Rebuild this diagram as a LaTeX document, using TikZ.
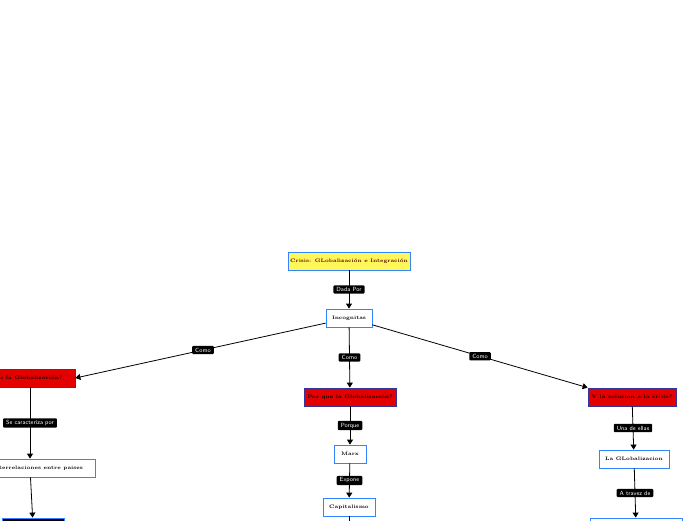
\documentclass[tikz,border=0pt]{standalone}
\usetikzlibrary{arrows.meta}
\begin{document}
\begin{tikzpicture}[x=1pt,y=-1pt,
 box/.style={draw=blue!60!cyan!80,line width=0.8pt,fill=white,minimum height=18pt,inner sep=1pt,font=\fontsize{5}{6}\selectfont\bfseries},
 redbox/.style={box,fill=red!90!black,draw=blue!50!black!80},
 lbl/.style={fill=black,text=white,rounded corners=1pt,inner xsep=3pt,inner ysep=2pt,font=\sffamily\fontsize{6}{7}\selectfont},
 con/.style={line width=0.8pt,-{Triangle[length=5pt,width=6pt]}}]
\useasboundingbox (0,0) rectangle (696,520);
\begin{scope}
\clip (0,0) rectangle (696,520);
\node[box,fill=yellow!65,minimum width=122pt,text=black!70!red] (t) at (349,261) {Crisis: GLobalizaci\'on e Integraci\'on};
\node[box,minimum width=46pt] (inc) at (349,318) {Incognitas};
\node[redbox,minimum width=110pt] (q1) at (20,378) {¿Que es la Globalizaci\'on?};
\node[redbox,minimum width=92pt] (q2) at (350,397) {Por que la Globalizaci\'on?};
\node[redbox,minimum width=88pt] (q3) at (632,397) {Y la solucion a la crisis?};
\node[box,minimum width=130pt] (h) at (30,468) {Hay interrelaciones entre paises};
\node[box,fill=black,minimum width=62pt,minimum height=14pt] (b1) at (33,525) {};
\node[box,minimum width=32pt] (marx) at (350,454) {Marx};
\node[box,minimum width=52pt] (cap) at (349,507) {Capitalismo};
\node[box,minimum width=70pt] (glo) at (634,459) {La GLobalizacion};
\node[box,minimum width=92pt] (b3) at (636,527) {};
\coordinate (capd) at (349,530);
\draw[con] (t) -- node[lbl]{Dada Por} (inc);
\draw[con] (inc) -- node[lbl,pos=0.49]{Como} (q1.east);
\draw[con] (inc) -- node[lbl]{Como} (q2);
\draw[con] (inc) -- node[lbl]{Como} (q3.north west);
\draw[con] (q1.south -| 30,0) -- node[lbl]{Se caracteriza por} (h.north);
\draw[con] (h) -- (b1);
\draw[con] (q2) -- node[lbl]{Porque} (marx);
\draw[con] (marx) -- node[lbl]{Expone} (cap);
\draw[line width=0.8pt] (cap) -- (capd);
\draw[con] (q3) -- node[lbl]{Una de ellas} (glo);
\draw[con] (glo) -- node[lbl]{A travez de} (b3);
\end{scope}
\end{tikzpicture}
\end{document}
